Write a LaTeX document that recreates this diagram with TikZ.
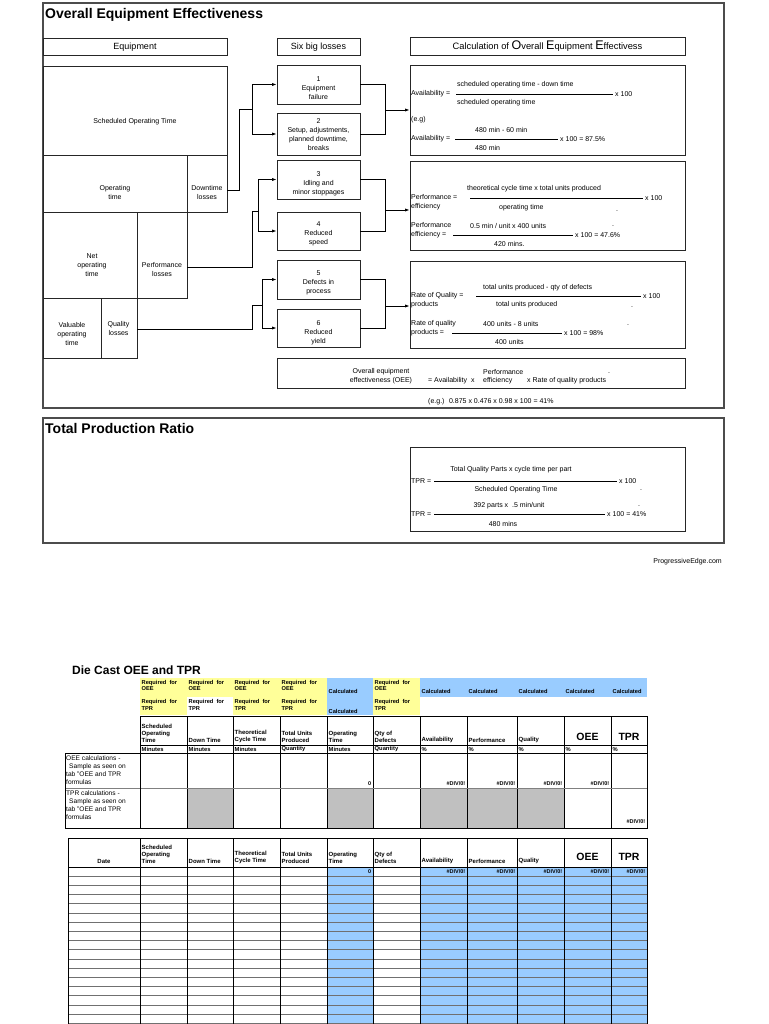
\documentclass[tikz,border=0pt]{standalone}
\usepackage{fontspec}
\setmainfont{Liberation Sans}
\usetikzlibrary{arrows.meta,fit}
\definecolor{ylw}{HTML}{FFFF99}
\definecolor{blu}{HTML}{99CCFF}
\definecolor{gry}{HTML}{C0C0C0}
\definecolor{rowline}{HTML}{707070}
\newcommand{\myfs}[2]{\fontsize{#1}{#2}\selectfont}
\newcommand{\bigL}[1]{{\myfs{12.5}{13}#1}}
\tikzset{
  box/.style={draw=black!85, line width=0.9pt, inner sep=0pt},
  frm/.style={draw=black!70, line width=1.3pt, inner sep=0pt},
  lbl/.style={font=\myfs{7}{9}, inner sep=0pt, align=center},
  fl/.style={font=\myfs{7}{8}, inner sep=0pt, anchor=west},
  ftc/.style={font=\myfs{7}{8}, inner sep=0pt},
  conn/.style={draw=black, line width=0.8pt},
  arr/.style={conn, -{Latex[length=4.5pt,width=3.2pt]}},
  frac/.style={draw=black, line width=0.5pt},
  rq/.style={font=\myfs{5.7}{6.3}\bfseries, inner sep=0pt, align=left},
  hd/.style={font=\myfs{6}{7}\bfseries, inner sep=0pt, align=left, anchor=south west},
  un/.style={font=\myfs{5.8}{6}\bfseries, inner sep=0pt, anchor=west},
  big/.style={font=\myfs{10.5}{11}\bfseries, inner sep=0pt},
  val/.style={font=\myfs{5.5}{6}\bfseries, inner sep=0pt, anchor=east},
  side/.style={font=\myfs{6.6}{8}, inner sep=0pt, align=left, anchor=north west},
}
\begin{document}
\begin{tikzpicture}[x=1pt,y=-1pt]
\useasboundingbox (0,0) rectangle (768,1024);
\fill[white] (0,0) rectangle (768,1024);

% ---------- frames ----------
\node[frm, fit={(43,3) (724,408)}] (fr1) {};
\node[frm, fit={(43,418) (724,543)}] (fr2) {};
\node[anchor=west, font=\myfs{14}{16}\bfseries, inner sep=0pt] (title1) at (45,15) {Overall Equipment Effectiveness};
\node[anchor=west, font=\myfs{14}{16}\bfseries, inner sep=0pt] (title2) at (45,428) {Total Production Ratio};

% ---------- headers ----------
\node[box, fit={(43,38) (227,55)}] (heq) {};
\node[font=\myfs{9}{10}, inner sep=0pt] (heqt) at (135,47) {Equipment};
\node[box, fit={(277,38) (360,55)}] (hsl) {};
\node[font=\myfs{9}{10}, inner sep=0pt] (hslt) at (318.5,47) {Six big losses};
\node[box, fit={(410,37) (685,55)}] (hcal) {};
\node[font=\myfs{9.3}{10}, inner sep=0pt] (hcalt) at (547.5,46.5) {Calculation of \bigL{O}verall \bigL{E}quipment \bigL{E}ffectivess};

% ---------- equipment blocks ----------
\node[box, fit={(43,66) (227,155)}] (sot) {};
\node[box, fit={(43,155) (187,212)}] (opt) {};
\node[box, fit={(187,155) (227,212)}] (dtl) {};
\node[box, fit={(43,212) (137,298)}] (net) {};
\node[box, fit={(137,212) (187,298)}] (pfl) {};
\node[box, fit={(43,298) (101,358)}] (vot) {};
\node[box, fit={(101,298) (137,358)}] (qll) {};
\node[lbl] (sott) at (135,122) {Scheduled Operating Time};
\node[lbl] (optt) at (115,192) {Operating\\time};
\node[lbl] (dtlt) at (207,192) {Downtime\\losses};
\node[lbl] (nett) at (92,265) {Net\\operating\\time};
\node[lbl] (pflt) at (162,269.5) {Performance\\losses};
\node[lbl] (vott) at (72,334) {Valuable\\operating\\time};
\node[lbl] (qllt) at (118.5,328) {Quality\\losses};

% ---------- six big losses ----------
\node[box, fit={(277,65) (360,104)}] (b1) {};
\node[box, fit={(277,113) (360,155)}] (b2) {};
\node[box, fit={(277,160) (360,199)}] (b3) {};
\node[box, fit={(277,212) (360,250)}] (b4) {};
\node[box, fit={(277,260) (360,299)}] (b5) {};
\node[box, fit={(277,309) (360,347)}] (b6) {};
\node[lbl] (b1t) at (318.5,88) {1\\Equipment\\failure};
\node[lbl] (b2t) at (318.5,134.5) {2\\Setup, adjustments,\\planned downtime,\\breaks};
\node[lbl] (b3t) at (318.5,183.5) {3\\Idling and\\minor stoppages};
\node[lbl] (b4t) at (318.5,234) {4\\Reduced\\speed};
\node[lbl] (b5t) at (318.5,283) {5\\Defects in\\process};
\node[lbl] (b6t) at (318.5,332.5) {6\\Reduced\\yield};

% ---------- formula boxes ----------
\node[box, fit={(410,65) (685,155)}] (fa) {};
\node[box, fit={(410,161) (685,250)}] (fb) {};
\node[box, fit={(410,261) (685,348)}] (fc) {};
\node[box, fit={(277,358) (685,388)}] (foee) {};

% availability
\node[fl] (a1) at (411,94) {Availability =};
\draw[frac] (456,94) -- (613,94);
\node[fl] (a2) at (615,94) {x 100};
\node[fl] (a3) at (457,85) {scheduled operating time - down time};
\node[fl] (a4) at (457,103) {scheduled operating time};
\node[fl] (a5) at (411,120) {(e.g)};
\node[fl] (a6) at (411,139) {Availability =};
\draw[frac] (455,139) -- (558,139);
\node[fl] (a7) at (560,139) {x 100 = 87.5\%};
\node[fl] (a8) at (475,130) {480 min - 60 min};
\node[fl] (a9) at (475,147.5) {480 min};

% performance
\node[fl] (p1) at (411,197.5) {Performance =};
\node[fl] (p2) at (411,206.5) {efficiency};
\draw[frac] (470,198) -- (643,198);
\node[fl] (p3) at (645,198) {x 100};
\node[fl] (p4) at (467,189) {theoretical cycle time x total units produced};
\node[fl] (p5) at (499,208) {operating time};
\node[fl] (p6) at (616,211) {.};
\node[fl] (p7) at (411,225.5) {Performance};
\node[fl] (p8) at (470,225.5) {0.5 min / unit x 400 units};
\node[fl] (p9) at (411,235) {efficiency =};
\draw[frac] (453,235) -- (573,235);
\node[fl] (p10) at (575,235) {x 100 = 47.6\%};
\node[fl] (p11) at (494,244) {420 mins.};
\node[fl] (p12) at (612,226) {.};

% quality
\node[fl] (q1) at (411,296) {Rate of Quality =};
\node[fl] (q2) at (411,305) {products};
\draw[frac] (476,296) -- (641,296);
\node[fl] (q3) at (643,296) {x 100};
\node[fl] (q4) at (483,288) {total units produced - qty of defects};
\node[fl] (q5) at (496,305) {total units produced};
\node[fl] (q6) at (631,307) {.};
\node[fl] (q7) at (411,324) {Rate of quality};
\node[fl] (q8) at (483,324) {400 units - 8 units};
\node[fl] (q9) at (411,333) {products =};
\draw[frac] (452,333) -- (562,333);
\node[fl] (q10) at (564,333) {x 100 = 98\%};
\node[fl] (q11) at (495,342) {400 units};
\node[fl] (q12) at (627,325) {.};

% OEE
\node[ftc] (o1) at (381,371.5) {Overall equipment};
\node[ftc] (o2) at (381,380.5) {effectiveness (OEE)};
\node[fl] (o3) at (428,381) {= Availability \ x};
\node[fl] (o4) at (483,372) {Performance};
\node[fl] (o5) at (483,381) {efficiency};
\node[fl] (o6) at (527,381) {x Rate of quality products};
\node[fl] (o7) at (608,373) {.};
\node[fl] (o8) at (428,402) {(e.g.) \ 0.875 x 0.476 x 0.98 x 100 = 41\%};

% TPR box
\node[box, fit={(410,447) (685,531)}] (ftpr) {};
\node[fl] (t1) at (411,481) {TPR =};
\draw[frac] (434,481) -- (617,481);
\node[fl] (t2) at (619,481) {x 100};
\node[ftc] (t3) at (511,470) {Total Quality Parts x cycle time per part};
\node[ftc] (t4) at (516,489.5) {Scheduled Operating Time};
\node[fl] (t5) at (640,490) {.};
\node[ftc] (t6) at (509,506) {392 parts x \ .5 min/unit};
\node[fl] (t7) at (411,514) {TPR =};
\draw[frac] (434,514) -- (605,514);
\node[fl] (t8) at (607,514) {x 100 = 41\%};
\node[ftc] (t9) at (503,524) {480 mins};
\node[fl] (t10) at (638,506) {.};
\node[font=\myfs{7}{8}, inner sep=0pt, anchor=east] (web) at (722,562) {ProgressiveEdge.com};

% ---------- connectors ----------
\coordinate (jA) at (252,109);
\draw[conn] ([yshift=-6.5pt]dtl.east) -- ++(12,0) |- (jA);
\draw[arr] (jA) |- (b1.west);
\draw[arr] (jA) |- (b2.west);
\coordinate (jB) at (258,211);
\draw[conn] ([yshift=-12pt]pfl.east) -- ++(65,0) |- (jB);
\draw[arr] (jB) |- (b3.west);
\draw[arr] (jB) |- (b4.west);
\coordinate (jC) at (262,305);
\draw[conn] ([yshift=-1pt]qll.east) -- ++(115,0) |- (jC);
\draw[arr] (jC) |- (b5.west);
\draw[arr] (jC) |- (b6.west);

\coordinate (kA) at (385,110);
\draw[conn] (b1.east) -| (kA);
\draw[conn] (b2.east) -| (kA);
\draw[arr] (kA) -- (fa.west |- kA);
\coordinate (kB) at (385,210);
\draw[conn] (b3.east) -| (kB);
\draw[conn] (b4.east) -| (kB);
\draw[arr] (kB) -- (fb.west |- kB);
\coordinate (kC) at (385,306);
\draw[conn] (b5.east) -| (kC);
\draw[conn] (b6.east) -| (kC);
\draw[arr] (kC) -- (fc.west |- kC);

% ---------- Die Cast table ----------
\node[anchor=west, font=\myfs{12}{14}\bfseries, inner sep=0pt] (dct) at (72,670) {Die Cast OEE and TPR};

\fill[ylw] (140,678) rectangle (187,715);
\fill[ylw] (187,678) rectangle (233,697);
\fill[ylw] (233,678) rectangle (327,715);
\fill[ylw] (373,678) rectangle (420,715);
\fill[blu] (327,678) rectangle (373,715);
\fill[blu] (420,678) rectangle (647,697);

\foreach \x/\n in {140/1,187/2,233/3,280/4,373/6} {
  \node[rq, anchor=north west] (ro\n) at (\x+1.5,680) {Required \ for\\OEE};
  \node[rq, anchor=north west] (rt\n) at (\x+1.5,699.5) {Required \ for\\TPR};
}
\node[rq, anchor=west] (ca5a) at (328.5,691) {Calculated};
\node[rq, anchor=west] (ca5b) at (328.5,711) {Calculated};
\foreach \x/\n in {420/7,467/8,517/9,564/10,611/11}
  \node[rq, anchor=west] (ca\n) at (\x+1.5,691) {Calculated};

% grey cells
\fill[gry] (187,788) rectangle (233,828);
\fill[gry] (327,788) rectangle (373,828);
\fill[gry] (420,788) rectangle (564,828);

% header texts
\node[hd] (h1) at (141.5,743) {Scheduled\\Operating\\Time};
\node[hd] (h2) at (188.5,743) {Down Time};
\node[hd] (h3) at (234.5,743) {Theoretical\\Cycle Time};
\node[hd] (h4) at (281.5,743) {Total Units\\Produced};
\node[hd] (h5) at (328.5,743) {Operating\\Time};
\node[hd] (h6) at (374.5,743) {Qty of\\Defects};
\node[hd] (h7) at (421.5,743) {Availability};
\node[hd] (h8) at (468.5,743) {Performance};
\node[hd] (h9) at (518.5,743) {Quality};
\node[big] (h10) at (587.5,737) {OEE};
\node[big] (h11) at (629,737) {TPR};
\foreach \x/\t [count=\n] in {140/Minutes,187/Minutes,233/Minutes,280/Quantity,327/Minutes,373/Quantity,420/\%,467/\%,517/\%,564/\%,611/\%}
  \node[un] (u\n) at (\x+1.5,749.2) {\t};

% table lines
\draw[line width=1pt] (140,716) rectangle (647,753);
\foreach \x in {187,233,280,327,373,420,467,517,564,611}
  \draw[line width=0.5pt] (\x,716) -- (\x,828);
\draw[line width=0.5pt] (140,745) -- (647,745);
\draw[line width=0.5pt, gray] (65,788) -- (647,788);
\draw[line width=0.8pt] (65,753) rectangle (647,828);
\draw[line width=0.8pt] (140,753) -- (140,828);

\node[side] (s1) at (66,755.5) {OEE calculations -\\\hspace*{3pt}Sample as seen on\\tab "OEE and TPR\\formulas};
\node[side] (s2) at (66,790.5) {TPR calculations -\\\hspace*{3pt}Sample as seen on\\tab "OEE and TPR\\formulas};
\node[val] (v5) at (371.5,784) {0};
\foreach \x/\n in {465.5/7,515.5/8,562.5/9,609.5/10}
  \node[val] (v\n) at (\x,784) {\#DIV/0!};
\node[val] (v11) at (645.5,822) {\#DIV/0!};

% ---------- bottom log table ----------
\fill[blu] (327,867) rectangle (373,1024);
\fill[blu] (420,867) rectangle (647,1024);
\foreach \k in {0,...,16}
  \draw[line width=0.7pt, rowline] (68,876.2+9.2*\k) -- (647,876.2+9.2*\k);
\foreach \x in {140,187,233,280,327,373,420,467,517,564,611}
  \draw[line width=0.5pt] (\x,838) -- (\x,1024);
\draw[line width=1pt] (68,1024) -- (68,838) -- (647,838) -- (647,1024);
\draw[line width=0.8pt] (68,867) -- (647,867);

\node[font=\myfs{6}{7}\bfseries, inner sep=0pt] (g0) at (104,861) {Date};
\node[hd] (g1) at (141.5,864) {Scheduled\\Operating\\Time};
\node[hd] (g2) at (188.5,864) {Down Time};
\node[hd] (g3) at (234.5,864) {Theoretical\\Cycle Time};
\node[hd] (g4) at (281.5,864) {Total Units\\Produced};
\node[hd] (g5) at (328.5,864) {Operating\\Time};
\node[hd] (g6) at (374.5,864) {Qty of\\Defects};
\node[hd] (g7) at (421.5,864) {Availability};
\node[hd] (g8) at (468.5,864) {Performance};
\node[hd] (g9) at (518.5,864) {Quality};
\node[big] (g10) at (587.5,857) {OEE};
\node[big] (g11) at (629,857) {TPR};
\node[val] (w5) at (371.5,872) {0};
\foreach \x/\n in {465.5/7,515.5/8,562.5/9,609.5/10,645.5/11}
  \node[val] (w\n) at (\x,872) {\#DIV/0!};
\end{tikzpicture}
\end{document}
